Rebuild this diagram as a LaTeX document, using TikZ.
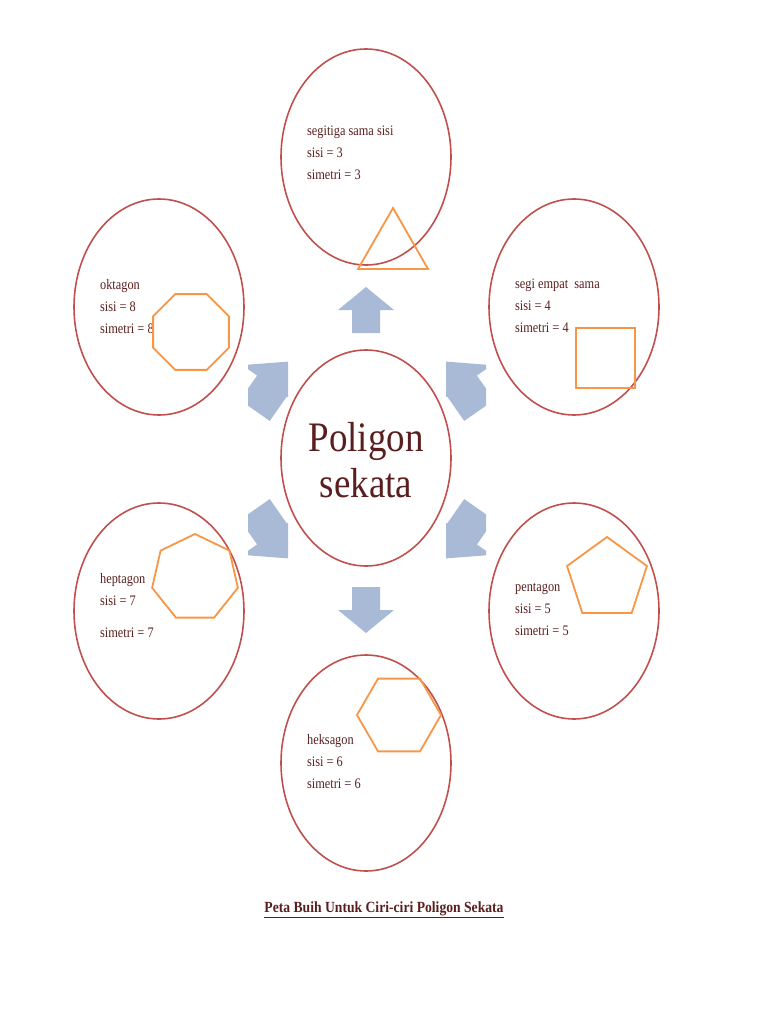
\documentclass[tikz,border=0pt]{standalone}
\usepackage{fontspec}
\setmainfont{Liberation Serif}
\usetikzlibrary{shapes.geometric}
\definecolor{ering}{HTML}{C0504D}
\definecolor{tx}{HTML}{5A1E1E}
\definecolor{org}{HTML}{F79646}
\definecolor{arr}{HTML}{A9BAD6}
\tikzset{
 bub/.style={draw=ering,line width=1.6pt,ellipse,minimum width=170pt,minimum height=216pt,inner sep=0},
 lbl/.style={text=tx,font=\fontsize{14.5}{22}\selectfont,anchor=north west,align=left,inner sep=0,xscale=0.85},
 shp/.style={draw=org,line width=1.8pt}
}
\newcommand{\blockarrow}[3][1]{\fill[arr,shift={(#2)},rotate=#3,scale=#1] (-14,23)--(14,23)--(14,0)--(28,0)--(0,-23)--(-28,0)--(-14,0)--cycle;}
\begin{document}
\begin{tikzpicture}[x=1pt,y=-1pt]
\path (0,0) rectangle (768,1024);
\node[bub] (c) at (366,458) {};
\node[bub] (t) at (366,157) {};
\node[bub] (tr) at (574,307) {};
\node[bub] (tl) at (159,307) {};
\node[bub] (bl) at (159,611) {};
\node[bub] (br) at (574,611) {};
\node[bub] (b) at (366,763) {};
\node[text=tx,font=\fontsize{42}{46}\selectfont,align=center,xscale=0.88] (ct) at (366,460) {Poligon\\sekata};
\blockarrow{366,310}{0}
\blockarrow{366,610}{180}
\begin{scope}\clip (248,340) rectangle (288,580);
\blockarrow[1.3]{272,386}{-35}
\blockarrow[1.3]{272,534}{-145}
\end{scope}
\begin{scope}\clip (446,340) rectangle (486,580);
\blockarrow[1.3]{462,386}{35}
\blockarrow[1.3]{462,534}{145}
\end{scope}
\node[lbl] (lt) at (307,126) {segitiga sama sisi\\sisi = 3\\simetri = 3};
\node[lbl] (ltr) at (515,279) {segi empat\ \ sama\\sisi = 4\\simetri = 4};
\node[lbl] (ltl) at (100,279) {oktagon\\sisi = 8\\simetri = 8};
\node[lbl] (lbl1) at (100,573) {heptagon\\sisi = 7\\[10pt]simetri = 7};
\node[lbl] (lbr) at (515,583) {pentagon\\sisi = 5\\simetri = 5};
\node[lbl] (lb) at (307,734) {heksagon\\sisi = 6\\simetri = 6};
\draw[shp] (358,269)--(428,269)--(393,208)--cycle;
\draw[shp] (576,328) rectangle (635,388);
\draw[shp] (191,332) +(22.5:41) \foreach \a in {67.5,112.5,...,382.5}{ -- +(\a:41)} -- cycle;
\draw[shp] (195,578) +(-90:44) \foreach \i in {1,...,6}{ -- +({-90+\i*360/7}:44)} -- cycle;
\draw[shp] (607,579) +(-90:42) \foreach \i in {1,...,4}{ -- +({-90+\i*72}:42)} -- cycle;
\draw[shp] (399,715) +(0:42) \foreach \a in {60,120,...,300}{ -- +(\a:42)} -- cycle;
\node[text=tx,font=\bfseries\fontsize{15.5}{17}\selectfont,xscale=0.88] (cap) at (384,910) {\underline{Peta Buih Untuk Ciri-ciri Poligon Sekata}};
\end{tikzpicture}
\end{document}
